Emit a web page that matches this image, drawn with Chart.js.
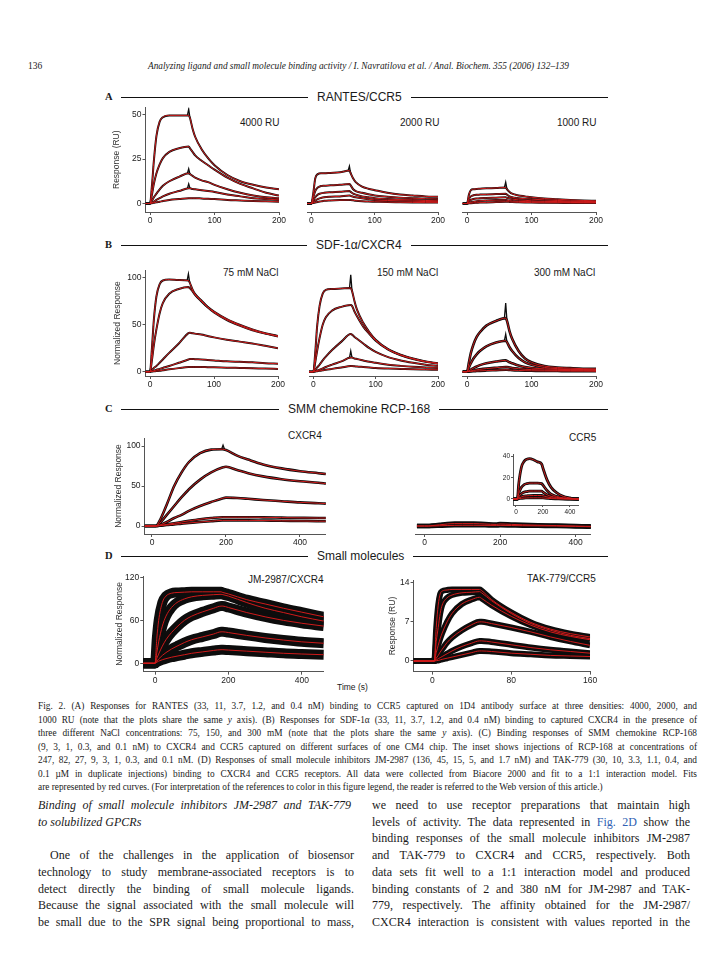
<!DOCTYPE html>
<html>
<head>
<meta charset="utf-8">
<script src="https://cdn.jsdelivr.net/npm/chart.js@4.4.0/dist/chart.umd.min.js"></script>
<style>
  body { margin: 0; width: 728px; height: 971px; position: relative; overflow: hidden; background: #fff;
         font-family: "Liberation Serif", "Times New Roman", serif; color: #1a1a1a; }
  .abs { position: absolute; white-space: nowrap; }
  .sans { font-family: "Liberation Sans", Arial, Helvetica, sans-serif; }
  .rule { position: absolute; height: 0; border-top: 1px solid #111; }
  canvas { position: absolute; }
  .blue { color: #2f5fb3; }
</style>
</head>
<body>
<script>
// ---- data (time in s, response) ----
const tAB = [-7, 0, 3, 6, 10, 15, 20, 30, 45, 60, 62, 66, 70, 80, 90, 100, 120, 140, 160, 180, 200];

const rantes4000 = [
  [0, 0, 10, 24, 38, 46, 48.5, 49.5, 49.5, 49.5, 48, 42, 37.5, 30.5, 25.5, 21.5, 16, 12.5, 10.5, 9, 8],
  [0, 0, 5, 11, 17, 22, 25.5, 29, 31, 32, 31, 29, 27, 24, 21.5, 19, 14.5, 11, 8.5, 6, 4.5],
  [0, 0, 1.5, 3.5, 5.5, 8, 10, 12.5, 15, 17, 16.5, 15.5, 14.5, 13, 12, 10.5, 8, 6, 4.5, 3.5, 3],
  [0, 0, 0.5, 1, 2, 3, 4, 5.5, 7, 8.5, 8.5, 8.2, 8, 7.5, 7, 6.5, 5, 4, 3, 2.5, 2],
  [0, 0, 0.2, 0.4, 0.7, 1, 1.4, 2, 2.5, 3, 3, 3, 3, 2.8, 2.6, 2.5, 2, 1.7, 1.4, 1.2, 1]
];
const rantes2000 = [
  [0, 0, 6, 14, 16.5, 17, 17, 17.2, 17.5, 18.5, 17, 14, 12, 9.5, 8.3, 7.5, 6, 5, 4.5, 4, 3.8],
  [0, 0, 3.5, 7, 9, 9.8, 10, 10.2, 10.5, 11, 10.2, 8, 7, 6, 5.2, 4.5, 3.8, 3.3, 3, 2.7, 2.5],
  [0, 0, 1.8, 3.5, 5, 5.7, 6, 6.3, 6.6, 7, 6.5, 5.5, 5, 4, 3.5, 3, 2.5, 2.2, 2, 1.7, 1.5],
  [0, 0, 0.8, 1.6, 2.5, 3.1, 3.5, 3.8, 4, 4.5, 4.3, 3.8, 3.5, 2.9, 2.4, 2, 1.7, 1.5, 1.3, 1.1, 1],
  [0, 0, 0.3, 0.6, 0.9, 1.2, 1.5, 1.7, 1.9, 2, 2, 1.8, 1.6, 1.3, 1.1, 1, 0.8, 0.7, 0.6, 0.5, 0.5]
];
const rantes1000 = [
  [0, 0, 5, 7.5, 8, 8.2, 8.3, 8.5, 8.7, 9, 8, 6.5, 5.5, 4.5, 4, 3.5, 2.8, 2.4, 2, 1.7, 1.5],
  [0, 0, 2.5, 4, 4.6, 4.9, 5, 5.1, 5.3, 5.5, 5, 4, 3.5, 3, 2.7, 2.5, 2, 1.7, 1.4, 1.2, 1],
  [0, 0, 1.2, 2, 2.5, 2.8, 3, 3.1, 3.3, 3.5, 3.2, 2.8, 2.5, 2, 1.8, 1.5, 1.2, 1.1, 1, 0.9, 0.8],
  [0, 0, 0.4, 0.7, 1, 1.3, 1.5, 1.7, 1.9, 2, 1.9, 1.6, 1.4, 1.2, 1.1, 1, 0.8, 0.7, 0.6, 0.5, 0.5],
  [0, 0, 0.1, 0.2, 0.3, 0.4, 0.5, 0.6, 0.8, 1, 1, 0.9, 0.8, 0.7, 0.6, 0.5, 0.4, 0.4, 0.3, 0.3, 0.3]
];

const sdf75 = [
  [0, 0, 25, 55, 80, 93, 97, 98, 97.5, 97, 95, 88, 83, 76, 69, 64, 56, 50, 45, 41, 38],
  [0, 0, 12, 28, 45, 62, 73, 83, 88, 90, 89, 86, 82, 75, 68.5, 63, 55, 49, 44, 40.5, 37.5],
  [0, 0, 2, 4, 6, 9.5, 13, 20, 30, 41, 41.5, 41, 40.5, 39.5, 38, 36.5, 34, 32, 30, 27.5, 25],
  [0, 0, 0.5, 1, 2, 3, 4, 6, 9.5, 13, 13.5, 13.5, 13.3, 13, 12.5, 12, 11, 10.5, 10, 9, 8.5],
  [0, 0, 0.2, 0.4, 0.7, 1, 1.5, 2.5, 3.8, 5, 5, 5, 5, 5, 4.8, 4.7, 4.3, 4, 3.7, 3.3, 3]
];
const sdf150 = [
  [0, 0, 20, 48, 70, 83, 87, 88, 88.5, 89, 86, 75, 66, 52, 42, 34, 24, 18, 14, 11, 9],
  [0, 0, 10, 22, 36, 50, 58, 65, 69, 71, 70, 64, 59, 48, 40, 33, 23.5, 17.5, 13.5, 10.5, 8.5],
  [0, 0, 2, 4.5, 7.5, 12, 16, 23, 32, 40, 39.5, 37, 35, 30, 25, 21, 15.5, 12, 9.5, 7.5, 6],
  [0, 0, 0.5, 1.2, 2.2, 3.5, 5, 7.5, 11, 15, 15, 14, 13.5, 12, 10.5, 9.5, 7.5, 6.2, 5.2, 4.5, 4],
  [0, 0, 0.2, 0.5, 0.9, 1.4, 2, 3, 4.5, 6, 6, 5.8, 5.5, 5, 4.5, 4, 3.4, 3, 2.6, 2.3, 2]
];
const sdf300 = [
  [0, 0, 10, 20, 29, 37, 42, 49, 54, 57, 54, 43, 35, 22, 14, 10, 6, 4.5, 3.8, 3.2, 3],
  [0, 0, 4.5, 9, 14, 18.5, 22, 27, 31, 33, 31.5, 26, 22, 14.5, 10, 7.5, 4.5, 3.3, 2.7, 2.3, 2],
  [0, 0, 1, 2.3, 3.8, 5.5, 7, 9, 10.8, 12, 11.5, 10, 9, 6.5, 5, 4, 3, 2.5, 2.2, 2, 1.8],
  [0, 0, 0.4, 0.8, 1.3, 2, 2.5, 3.3, 4.2, 5, 5, 4.5, 4, 3.2, 2.6, 2.2, 1.7, 1.4, 1.2, 1.1, 1],
  [0, 0, 0.1, 0.3, 0.5, 0.7, 0.9, 1.2, 1.6, 2, 2, 1.8, 1.6, 1.3, 1.1, 1, 0.8, 0.7, 0.6, 0.6, 0.5]
];

// short injection-end spikes seen in the raw (black) traces: [time, response]
const spikesA4000 = [[58, 49.5], [60, 53], [62, 48], [58, 17], [60, 19.5], [62, 16.5], [58, 8.5], [60, 11], [62, 8.5]];
const spikesA2000 = [[58, 18.5], [60, 21], [62, 17]];
const spikesA1000 = [[58, 9], [60, 12], [62, 8]];
const spikes75 = [[58, 97], [60, 104], [62, 95]];
const spikes150 = [[58, 89], [60, 103], [62, 86], [58, 15], [60, 22], [62, 15]];
const spikes300 = [[58, 57], [60, 73], [62, 54], [58, 33], [60, 40], [62, 31.5]];

const tC = [-20, 0, 10, 20, 40, 60, 80, 100, 130, 160, 190, 200, 230, 260, 300, 350, 400, 450, 470];
const rcpCXCR4 = [
  [0, 0, 0, 6, 27, 50, 67, 80, 91, 95.5, 96, 95, 88, 83, 77, 72, 68.5, 66, 65],
  [0, 0, 0, 3, 14, 25, 36, 46, 58, 67, 73, 74, 70, 66, 62, 58.5, 56, 54, 53],
  [0, 0, 0, 1, 5, 10, 14, 19, 25, 30, 34.5, 35.5, 35, 34, 32.5, 31, 29.5, 28.5, 28],
  [0, 0, 0, 0.5, 2, 3.5, 5, 6.5, 8.5, 10, 11, 11, 11, 11, 10.8, 10.5, 10.2, 10, 10],
  [0, 0, 0, 0.3, 1.2, 2, 3, 3.8, 5, 6, 7, 7, 7, 7, 6.8, 6.5, 6.3, 6, 6]
];
const spikesCXCR4 = [[188, 96], [192, 101], [196, 96]];
const rcpCCR5 = [
  [0, 0, 0, 0.5, 1.5, 2.5, 3, 3, 3, 2.5, 2, 2.5, 2, 1.5, 1, 0.5, 0, -0.5, -0.5],
  [0, 0, 0, 0, 0.3, 0.6, 0.8, 0.9, 0.9, 0.8, 0.7, 0.8, 0.6, 0.4, 0.2, 0, -0.5, -1, -1]
];
const rcpInset = [
  [0, 0, 0, 14, 30, 35.5, 37.5, 38, 37, 35, 33, 29, 18, 11, 6, 2.5, 1, 0, 0],
  [0, 0, 0, 5, 11, 13.5, 14.5, 15, 15, 15, 14.5, 13, 8, 4.5, 2.5, 1, 0.5, 0, 0],
  [0, 0, 0, 2, 5, 6.5, 7, 7.5, 7.5, 7.5, 7.5, 6.5, 4, 2.5, 1.5, 0.8, 0.3, 0, 0],
  [0, 0, 0, 0.8, 2, 2.8, 3, 3.2, 3.3, 3.3, 3.3, 3, 2, 1.2, 0.7, 0.3, 0, 0, 0],
  [0, 0, 0, 0.3, 0.6, 0.9, 1, 1.1, 1.1, 1.1, 1.1, 1, 0.7, 0.4, 0.2, 0, 0, 0, 0]
];

const tD1 = [-32, -5, 0, 5, 10, 20, 30, 45, 60, 80, 100, 130, 160, 180, 185, 200, 250, 300, 350, 400, 460];
const jmCXCR4 = [
  [0, 0, 0, 35, 60, 85, 94, 98, 99, 99.5, 100, 100, 100, 100, 99, 97, 89, 83, 77, 71.5, 65],
  [0, 0, 0, 15, 30, 52, 66, 78, 85, 90, 93, 95, 96, 96.5, 96, 94, 85, 77, 71, 65, 59],
  [0, 0, 0, 7, 13, 24, 33, 43, 51, 60, 66, 72, 77, 80, 80, 78, 71, 65, 60, 56, 52],
  [0, 0, 0, 3, 6, 11, 15, 20, 24, 29, 33, 37, 41, 44, 44, 43, 39, 35.5, 32.5, 30, 28],
  [0, 0, 0, 1.5, 3, 5, 6.5, 8.5, 10, 12, 14, 16, 18, 19, 19, 18.5, 17, 15.5, 14, 13, 12]
];

const tD2 = [-19, 0, 2, 4, 6, 8, 10, 15, 20, 30, 40, 48, 50, 60, 80, 100, 120, 140, 160];
const takCCR5 = [
  [0, 0, 0, 6, 10, 12, 12.5, 12.7, 12.8, 12.8, 12.8, 12.8, 12.6, 11, 8.7, 6.9, 5.7, 4.9, 4.3],
  [0, 0, 0, 3.5, 6, 8.5, 10, 11.3, 11.8, 12.2, 12.3, 12.4, 12.2, 10.8, 8.5, 6.7, 5.5, 4.6, 4],
  [0, 0, 0, 1.5, 2.8, 4, 5, 7, 8.5, 10.2, 11, 11.4, 11.2, 10, 8, 6.4, 5.2, 4.4, 3.8],
  [0, 0, 0, 0.5, 1, 1.6, 2.1, 3.3, 4.2, 5.5, 6.5, 7, 7, 6.7, 6, 5.2, 4.3, 3.5, 2.8],
  [0, 0, 0, 0.2, 0.4, 0.6, 0.8, 1.3, 1.8, 2.6, 3.2, 3.6, 3.6, 3.4, 2.9, 2.4, 2, 1.7, 1.4],
  [0, 0, 0, 0.05, 0.1, 0.2, 0.3, 0.5, 0.7, 1.1, 1.5, 1.8, 1.8, 1.7, 1.4, 1.2, 1, 0.9, 0.8]
];

// tick labels
const ticks200 = [0, 100, 200];
const ticks400 = [0, 200, 400];
const ticks160 = [0, 80, 160];
const yTicksA = [0, 25, 50];
const yTicksNorm = [0, 50, 100];
const yTicksInset = [0, 20, 40];
const yTicksD1 = [0, 60, 120];
const yTicksD2 = [0, 7, 14];

// ---- text helpers ----
function label(html, x, y, size, cls) {
  const d = document.createElement('div');
  d.className = 'abs ' + (cls || '');
  d.style.left = x + 'px';
  d.style.top = (y - size / 2) + 'px';
  d.style.fontSize = size + 'px';
  d.style.lineHeight = size + 'px';
  d.innerHTML = html;
  document.body.appendChild(d);
  return d;
}
// one justified line: stretch the word gaps to the given width
function line(html, x, y, size, w, cls) {
  const d = label(html, x, y, size, cls);
  if (w) {
    const gaps = (d.textContent.match(/ /g) || []).length;
    const extra = w - d.getBoundingClientRect().width;
    if (gaps) d.style.wordSpacing = (extra / gaps) + 'px';
  }
  return d;
}
function rule(x1, x2, y) {
  const d = document.createElement('div');
  d.className = 'rule';
  d.style.left = x1 + 'px';
  d.style.top = y + 'px';
  d.style.width = (x2 - x1) + 'px';
  document.body.appendChild(d);
}
function section(letter, title, titleX, y) {
  label('<b>' + letter + '</b>', 105, y, 10.5);
  const t = label(title, titleX, y, 12, 'sans');
  const w = t.getBoundingClientRect().width;
  rule(121, titleX - 9, y);
  rule(titleX + w + 9, 608, y);
}

// header
label('136', 28, 67, 9.5);
line('<i>Analyzing ligand and small molecule binding activity / I. Navratilova et al. / Anal. Biochem. 355 (2006) 132–139</i>', 148, 67, 9.3, 421);

section('A', 'RANTES/CCR5', 317, 97);
section('B', 'SDF-1α/CXCR4', 316, 245);
section('C', 'SMM chemokine RCP-168', 288, 409);
section('D', 'Small molecules', 317, 556);

label('4000 RU', 240, 123, 10, 'sans');
label('2000 RU', 400, 123, 10, 'sans');
label('1000 RU', 557, 123, 10, 'sans');
label('75 mM NaCl', 223, 272.5, 10, 'sans');
label('150 mM NaCl', 377, 272.5, 10, 'sans');
label('300 mM NaCl', 534, 272.5, 10, 'sans');
label('CXCR4', 288, 436, 10, 'sans');
label('CCR5', 569, 438, 10, 'sans');
label('JM-2987/CXCR4', 248, 580, 10, 'sans');
label('TAK-779/CCR5', 527, 579, 10, 'sans');
label('Time (s)', 337, 687, 8.5, 'sans');

// caption
const cap = [
  'Fig. 2. (A) Responses for RANTES (33, 11, 3.7, 1.2, and 0.4 nM) binding to CCR5 captured on 1D4 antibody surface at three densities: 4000, 2000, and',
  '1000 RU (note that the plots share the same <i>y</i> axis). (B) Responses for SDF-1α (33, 11, 3.7, 1.2, and 0.4 nM) binding to captured CXCR4 in the presence of',
  'three different NaCl concentrations: 75, 150, and 300 mM (note that the plots share the same <i>y</i> axis). (C) Binding responses of SMM chemokine RCP-168',
  '(9, 3, 1, 0.3, and 0.1 nM) to CXCR4 and CCR5 captured on different surfaces of one CM4 chip. The inset shows injections of RCP-168 at concentrations of',
  '247, 82, 27, 9, 3, 1, 0.3, and 0.1 nM. (D) Responses of small molecule inhibitors JM-2987 (136, 45, 15, 5, and 1.7 nM) and TAK-779 (30, 10, 3.3, 1.1, 0.4, and',
  '0.1 µM in duplicate injections) binding to CXCR4 and CCR5 receptors. All data were collected from Biacore 2000 and fit to a 1:1 interaction model. Fits',
  'are represented by red curves. (For interpretation of the references to color in this figure legend, the reader is referred to the Web version of this article.)'
];
cap.forEach((s, i) => line(s, 38, 707 + i * 13.5, 9.3, i < cap.length - 1 ? 659 : 0));

// body text
const lh = 16.7;
line('<i>Binding of small molecule inhibitors JM-2987 and TAK-779</i>', 38, 805, 12, 313);
line('<i>to solubilized GPCRs</i>', 38, 805 + lh, 12, 0);
const leftCol = [
  'technology to study membrane-associated receptors is to',
  'detect directly the binding of small molecule ligands.',
  'Because the signal associated with the small molecule will',
  'be small due to the SPR signal being proportional to mass,'
];
line('One of the challenges in the application of biosensor', 50, 805 + 3 * lh, 12, 304);
leftCol.forEach((s, i) => line(s, 38, 805 + (4 + i) * lh, 12, 316));
const rightCol = [
  'we need to use receptor preparations that maintain high',
  'levels of activity. The data represented in <span class="blue">Fig. 2D</span> show the',
  'binding responses of the small molecule inhibitors JM-2987',
  'and TAK-779 to CXCR4 and CCR5, respectively. Both',
  'data sets fit well to a 1:1 interaction model and produced',
  'binding constants of 2 and 380 nM for JM-2987 and TAK-',
  '779, respectively. The affinity obtained for the JM-2987/',
  'CXCR4 interaction is consistent with values reported in the'
];
rightCol.forEach((s, i) => line(s, 372, 805 + i * lh, 12, 318));

// ---- charts ----
const sans = '"Liberation Sans", Arial, Helvetica, sans-serif';
const panels = [
  { t: tAB, curves: rantes4000, spikes: spikesA4000, x0: 150, kx: 0.645, xmin: -7, xmax: 200, xticks: ticks200, y0: 203.5, ky: 1.78, ymin: -4.8, ymax: 54, yticks: yTicksA, yTitle: 'Response (RU)', titleX: 117, bw: 2 },
  { t: tAB, curves: rantes2000, spikes: spikesA2000, x0: 311, kx: 0.635, xmin: -7, xmax: 200, xticks: ticks200, y0: 203.5, ky: 1.78, ymin: -4.8, ymax: 54, yticks: yTicksA, bw: 2 },
  { t: tAB, curves: rantes1000, spikes: spikesA1000, x0: 467, kx: 0.645, xmin: -7, xmax: 200, xticks: ticks200, y0: 203.5, ky: 1.78, ymin: -4.8, ymax: 54, yticks: yTicksA, bw: 2 },
  { t: tAB, curves: sdf75, spikes: spikes75, x0: 150, kx: 0.64, xmin: -7, xmax: 200, xticks: ticks200, y0: 371.7, ky: 0.94, ymin: -4.6, ymax: 108, yticks: yTicksNorm, yTitle: 'Normalized Response', titleX: 118, bw: 2 },
  { t: tAB, curves: sdf150, spikes: spikes150, x0: 313, kx: 0.625, xmin: -7, xmax: 200, xticks: ticks200, y0: 371.7, ky: 0.94, ymin: -4.6, ymax: 108, yticks: yTicksNorm, bw: 2 },
  { t: tAB, curves: sdf300, spikes: spikes300, x0: 467, kx: 0.645, xmin: -7, xmax: 200, xticks: ticks200, y0: 371.7, ky: 0.94, ymin: -4.6, ymax: 108, yticks: yTicksNorm, bw: 2.6 },
  { t: tC, curves: rcpCXCR4, spikes: spikesCXCR4, x0: 152, kx: 0.37, xmin: -20, xmax: 470, xticks: ticks400, y0: 526, ky: 0.8, ymin: -10, ymax: 110, yticks: yTicksNorm, yTitle: 'Normalized Response', titleX: 119, bw: 2.6 },
  { t: tC, curves: rcpCCR5, x0: 424.5, kx: 0.378, xmin: -24, xmax: 440, xticks: ticks400, y0: 526, ky: 0.8, ymin: -10, ymax: 110, yticks: yTicksNorm, bw: 4.5 },
  { t: tC, curves: rcpInset, x0: 516, kx: 0.135, xmin: -22, xmax: 465, xticks: ticks400, y0: 499, ky: 1.06, ymin: -5.7, ymax: 42, yticks: yTicksInset, small: true, bw: 2.8 },
  { t: tD1, curves: jmCXCR4, x0: 155, kx: 0.367, xmin: -32, xmax: 460, xticks: ticks400, y0: 663.3, ky: 0.715, ymin: -11.7, ymax: 122, yticks: yTicksD1, yTitle: 'Normalized Response', titleX: 120, bw: 10 },
  { t: tD2, curves: takCCR5, x0: 432.3, kx: 0.986, xmin: -19, xmax: 160, xticks: ticks160, y0: 661, ky: 5.59, ymin: -1.9, ymax: 14.4, yticks: yTicksD2, yTitle: 'Response (RU)', titleX: 393, bw: 6 }
];

function drawPanel(p) {
  const showY = !!(p.yTitle || p.small);
  const fs = p.small ? 6.5 : 8.5;
  const titleSize = 8.5;
  const l = p.x0 + p.xmin * p.kx, r = p.x0 + p.xmax * p.kx;
  const top = p.y0 - p.ymax * p.ky, bot = p.y0 - p.ymin * p.ky;
  const yw0 = showY ? (p.yTitle ? l - p.titleX + titleSize * 0.6 : 12) : 0;
  const cl = Math.round(l - yw0), ct = Math.round(top - 6);
  const yw = l - cl, padTop = top - ct;
  const W = Math.ceil(yw + (r - l) + 10), H = Math.ceil(padTop + (bot - top) + 16);
  const padR = W - yw - (r - l), xh = H - padTop - (bot - top);

  const c = document.createElement('canvas');
  c.width = W; c.height = H;
  c.style.left = cl + 'px'; c.style.top = ct + 'px';
  c.style.width = W + 'px'; c.style.height = H + 'px';
  document.body.appendChild(c);

  const datasets = [];
  p.curves.forEach(v => datasets.push({
    data: v.map((y, i) => ({ x: p.t[i], y: y })),
    borderColor: '#cf1b1b', borderWidth: 1, order: 0
  }));
  p.curves.forEach(v => datasets.push({
    data: v.map((y, i) => ({ x: p.t[i], y: y })),
    borderColor: '#0d0d0d', borderWidth: p.bw, order: 1
  }));
  // each spike is three points: rise and fall at the end of the injection
  (p.spikes || []).forEach((pt, i, all) => {
    if (i % 3) return;
    datasets.push({
      data: all.slice(i, i + 3).map(q => ({ x: q[0], y: q[1] })),
      borderColor: '#0d0d0d', borderWidth: 1.3, order: 1, cubicInterpolationMode: 'default', tension: 0
    });
  });

  const tickFont = { family: sans, size: fs };
  const tl = p.small ? 2 : 3;
  new Chart(c, {
    type: 'line',
    data: { datasets: datasets },
    options: {
      responsive: false, animation: false, events: [],
      layout: { padding: { top: padTop, right: padR, left: 0, bottom: 0 } },
      plugins: { legend: { display: false }, tooltip: { enabled: false } },
      elements: { point: { radius: 0 }, line: { cubicInterpolationMode: 'monotone' } },
      scales: {
        x: {
          type: 'linear', min: p.xmin, max: p.xmax,
          afterBuildTicks: s => { s.ticks = p.xticks.map(v => ({ value: v })); },
          ticks: { font: tickFont, color: '#222', padding: 1, maxRotation: 0, autoSkip: false },
          grid: { drawOnChartArea: false, drawTicks: true, tickLength: tl, color: '#555' },
          border: { color: '#555', width: 1 },
          afterFit: s => { s.height = xh; s.paddingLeft = 0; s.paddingRight = 0; }
        },
        y: {
          display: showY, min: p.ymin, max: p.ymax,
          afterBuildTicks: s => { s.ticks = p.yticks.map(v => ({ value: v })); },
          ticks: { font: tickFont, color: '#222', padding: 1, autoSkip: false },
          grid: { drawOnChartArea: false, drawTicks: true, tickLength: tl, color: '#555' },
          border: { color: '#555', width: 1 },
          title: { display: !!p.yTitle, text: p.yTitle || '', font: { family: sans, size: titleSize }, color: '#333', padding: 0 },
          afterFit: s => { s.width = yw; s.paddingTop = 0; s.paddingBottom = 0; }
        }
      }
    }
  });
}

panels.forEach(drawPanel);
</script>
</body>
</html>
